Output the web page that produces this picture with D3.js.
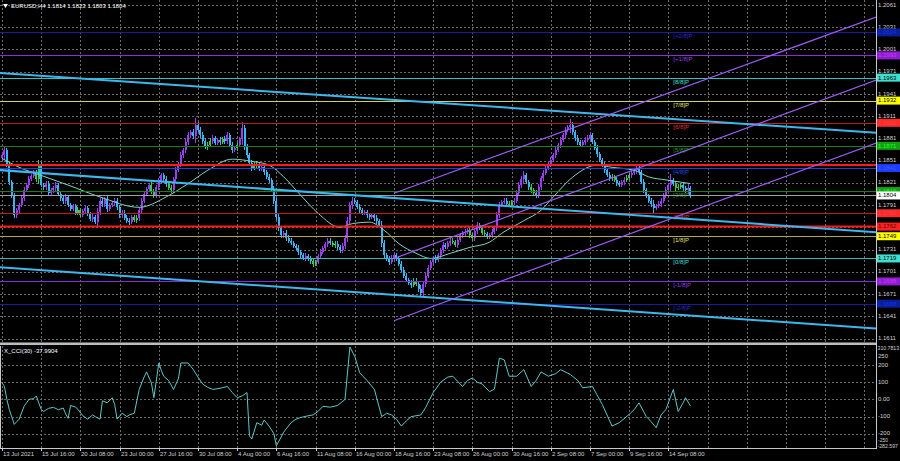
<!DOCTYPE html>
<html><head><meta charset="utf-8">
<script src="https://cdn.jsdelivr.net/npm/d3@7"></script>
<style>
html,body{margin:0;padding:0;background:#000;}
svg{display:block;}
text{font-family:"Liberation Sans",Arial,sans-serif;}
</style></head><body>
<svg id="c" width="900" height="461"></svg>
<script>
// ---------- DATA ----------
const symbolTitle = "EURUSD,H4  1.1814 1.1823 1.1803 1.1804";
const cciTitle = "X_CCI(30) -37.9904";
const firstOpen = 1.1855;
const closes = [
1.1858,1.1865,1.1845,1.1822,1.1804,1.1777,1.1784,1.1791,1.1800,1.1812,
1.1818,1.1826,1.1830,1.1835,1.1826,1.1846,1.1818,1.1815,1.1820,1.1808,
1.1811,1.1814,1.1818,1.1806,1.1800,1.1796,1.1802,1.1791,1.1786,1.1790,
1.1781,1.1784,1.1778,1.1783,1.1787,1.1779,1.1772,1.1775,1.1768,1.1782,
1.1797,1.1792,1.1799,1.1786,1.1791,1.1794,1.1797,1.1788,1.1777,1.1781,
1.1774,1.1770,1.1768,1.1775,1.1771,1.1773,1.1785,1.1797,1.1806,1.1813,
1.1818,1.1810,1.1804,1.1815,1.1824,1.1831,1.1826,1.1820,1.1814,1.1811,
1.1826,1.1838,1.1846,1.1858,1.1865,1.1876,1.1885,1.1890,1.1884,1.1899,
1.1893,1.1885,1.1878,1.1870,1.1872,1.1878,1.1881,1.1875,1.1879,1.1876,
1.1880,1.1878,1.1885,1.1872,1.1865,1.1868,1.1872,1.1880,1.1895,1.1870,
1.1858,1.1848,1.1841,1.1846,1.1845,1.1840,1.1843,1.1835,1.1829,1.1825,
1.1812,1.1797,1.1775,1.1760,1.1750,1.1753,1.1747,1.1743,1.1740,1.1736,
1.1733,1.1728,1.1723,1.1720,1.1722,1.1718,1.1716,1.1712,1.1714,1.1722,
1.1728,1.1733,1.1738,1.1743,1.1740,1.1737,1.1739,1.1734,1.1730,1.1736,
1.1746,1.1770,1.1791,1.1797,1.1795,1.1789,1.1784,1.1780,1.1782,1.1777,
1.1775,1.1778,1.1773,1.1769,1.1764,1.1740,1.1723,1.1718,1.1714,1.1720,
1.1723,1.1719,1.1712,1.1704,1.1696,1.1690,1.1686,1.1683,1.1689,1.1685,
1.1678,1.1673,1.1684,1.1696,1.1706,1.1714,1.1719,1.1717,1.1723,1.1730,
1.1737,1.1735,1.1740,1.1743,1.1741,1.1737,1.1744,1.1750,1.1753,1.1755,
1.1757,1.1750,1.1746,1.1756,1.1764,1.1760,1.1754,1.1752,1.1748,1.1750,
1.1755,1.1760,1.1778,1.1791,1.1795,1.1797,1.1793,1.1791,1.1795,1.1797,
1.1808,1.1818,1.1826,1.1831,1.1822,1.1815,1.1811,1.1808,1.1804,1.1815,
1.1827,1.1834,1.1841,1.1846,1.1852,1.1858,1.1865,1.1872,1.1879,1.1885,
1.1892,1.1896,1.1899,1.1890,1.1881,1.1876,1.1872,1.1876,1.1879,1.1882,
1.1885,1.1876,1.1868,1.1860,1.1852,1.1845,1.1838,1.1832,1.1827,1.1829,
1.1825,1.1821,1.1818,1.1822,1.1825,1.1828,1.1831,1.1834,1.1838,1.1840,
1.1835,1.1822,1.1811,1.1803,1.1797,1.1792,1.1787,1.1790,1.1793,1.1797,
1.1804,1.1811,1.1818,1.1825,1.1820,1.1814,1.1816,1.1818,1.1814,1.1811,
1.1814,1.1804];
// wick length per bar, in pips
const wicks = [
4,6,3,4,3,4,3,3,3,4, 3,4,3,3,4,6,3,3,4,3, 3,3,4,3,3,3,4,3,3,3,
3,4,3,3,4,3,3,4,3,5, 4,3,3,4,3,3,4,3,3,4, 3,3,4,3,3,4,3,4,3,3,
3,4,3,3,4,3,3,4,3,4, 3,4,3,4,3,4,4,3,4,9, 4,3,4,3,4,3,4,3,3,4,
3,4,4,3,4,3,4,3,8,4, 4,3,4,3,4,3,3,4,3,4, 3,5,4,4,3,3,4,3,3,3,
3,4,3,3,4,3,4,4,3,3, 4,3,3,4,3,3,4,3,3,4, 4,5,4,5,3,3,4,3,3,3,
4,3,3,4,3,5,4,3,4,3, 3,4,3,3,4,3,3,4,3,3, 4,5,4,3,4,3,3,4,3,3,
4,3,3,4,3,3,4,3,3,4, 3,3,4,3,4,3,3,4,3,3, 4,3,4,4,3,3,4,3,3,4,
3,4,4,6,3,3,4,3,3,4, 3,4,3,3,4,3,4,3,4,3, 4,3,8,4,3,4,3,3,4,3,
4,3,3,4,3,3,4,3,3,4, 3,4,3,3,4,3,3,4,3,5, 4,3,4,3,3,4,6,3,3,4,
3,4,3,8,3,4,3,3,4,3, 5,3];
const greenBars = [14,15,31,32,54,55,61,62,68,69,84,85,90,96,103,104,127,128,135,136,168,169,184,185,191,192,196,197,207,208,216,217,249,250,255,256,275,276,277];
const maBars = [0,7,16,27,40,56,67,76,84,94,102,109,115,122,129,138,143,150,156,162,169,175,183,191,199,204,213,220,225,233,243,249,258,264,271,277,281];
const maValues = [1.1854,1.1842,1.1831,1.1818,1.1802,1.1788,1.1802,1.1820,1.1838,1.1853,1.1850,1.1845,1.1829,1.1804,1.1780,1.1761,1.1766,1.1768,1.1757,1.1739,1.1726,1.1719,1.1726,1.1734,1.1741,1.1753,1.1770,1.1784,1.1802,1.1829,1.1845,1.1842,1.1838,1.1829,1.1825,1.1822,1.1820];
const cciBars = [0,1,2,3,5,6,7,9,11,13,14,15,16,17,19,21,23,25,26,27,28,30,31,33,35,37,38,40,41,43,45,46,47,49,51,52,54,56,58,59,61,62,64,65,66,68,70,72,73,76,78,80,82,84,86,89,92,94,96,98,100,101,102,104,106,107,109,111,112,115,118,120,122,125,127,129,131,134,137,140,142,144,146,149,152,155,157,159,161,163,165,167,169,171,173,176,179,182,184,186,188,190,192,194,196,199,201,203,205,207,210,213,216,218,220,223,226,228,232,235,237,241,245,249,252,256,258,260,263,265,267,269,271,274,276,278,279,281];
const cciValues = [98,75,0,-60,-145,-130,-115,-40,0,5,20,-20,-58,-70,-52,-46,-60,-50,-85,-110,-35,-45,-58,-95,-115,-90,-100,-115,-8,-20,10,-30,-115,-80,-100,-90,-80,58,130,160,95,10,212,170,135,110,58,120,212,212,175,130,88,70,58,65,75,40,10,20,40,-212,-230,-135,-150,-120,-155,-200,-270,-190,-135,-115,-105,-95,-90,-70,-40,-45,-35,0,305,250,155,110,58,-100,-80,-90,-115,-155,-125,-100,-95,-90,-45,40,100,130,135,105,75,110,125,100,90,45,60,240,230,135,135,173,75,110,160,135,150,173,145,110,68,75,-29,-155,-135,-87,-60,-20,-100,-130,-165,-90,-58,58,-70,-20,10,-38];
const timeLabels = ["13 Jul 2021","15 Jul 16:00","20 Jul 08:00","23 Jul 00:00","27 Jul 16:00","30 Jul 08:00","4 Aug 00:00","6 Aug 16:00","11 Aug 08:00","16 Aug 00:00","18 Aug 16:00","23 Aug 08:00","26 Aug 00:00","30 Aug 16:00","2 Sep 08:00","7 Sep 00:00","9 Sep 16:00","14 Sep 08:00"];
const barsPerLabel = 16;
const priceTicks = [1.2061,1.2031,1.2001,1.1971,1.1941,1.1911,1.1881,1.1851,1.1821,1.1791,1.1761,1.1731,1.1701,1.1671,1.1641,1.1611];
const murrayLevels = [1.2024,1.1993,1.1963,1.1932,1.1902,1.1871,1.1841,1.1810,1.1780,1.1749,1.1719,1.1688,1.1658];
const murrayNames = ["[+2/8]P","[+1/8]P","[8/8]P","[7/8]P","[6/8]P","[5/8]P","[4/8]P","[3/8]P","[2/8]P","[1/8]P","[0/8]P","[-1/8]P","[-2/8]P"];
const keyLevels = [1.1845,1.1762];
const currentPrice = 1.1804;
const descBars = [0,350];
const descUpper = [1.1969,1.1890];
const descMiddle = [1.1838,1.1756];
const descLower = [1.1707,1.1626];
const ascBars = [160,357];
const ascUpper = [1.1807,1.2045];
const ascMiddle = [1.1719,1.1960];
const ascLower = [1.1635,1.1875];
const cciTicks = [250,200,100,0,-100,-200,-250];
const cciMax = 310.7813, cciMin = -282.597;

// ---------- STYLE ----------
const murrayLine = ["#1a1aa8","#8a2be2","#2cc4c4","#d0d060","#c01c1c","#1a801a","#2040d8","#1a801a","#c01c1c","#b0a84c","#2cbcbc","#8a2be2","#1a1aa8"];
const murrayBox  = ["#0a1f96","#8a1fd0","#40e0d0","#ffff00","#ff2a2a","#12a012","#1e3cff","#12a012","#ff2a2a","#ffff00","#40e0d0","#8a1fd0","#0a1f96"];
const murrayText = ["#2a2ad0","#9a3ae8","#40e0d0","#e8e860","#e03030","#1a9a1a","#2a4ae8","#1a9a1a","#e03030","#e0e060","#40d8d8","#9a3ae8","#2a2ad0"];
const BULL="#9b3ff0", BEAR="#38b6f5", GREEN="#33cc55";
const R=876, mainBot=342, cciTop=346, cciBot=448;

// ---------- SCALES ----------
const svg=d3.select("#c");
const x=d3.scaleLinear().domain([0,357.55]).range([2,878]);
const y=d3.scaleLinear().domain([1.1611,1.2061]).range([338.5,5]);
const cy=d3.scaleLinear().domain([cciMin,cciMax]).range([cciBot,cciTop]);

svg.append("rect").attr("width",900).attr("height",461).attr("fill","#000");
const defs=svg.append("defs");
defs.append("clipPath").attr("id","mc").append("rect").attr("x",0).attr("y",0).attr("width",R).attr("height",mainBot);
defs.append("clipPath").attr("id","cc").append("rect").attr("x",0).attr("y",cciTop).attr("width",R).attr("height",cciBot-cciTop);

const gm=svg.append("g").attr("clip-path","url(#mc)");
const gc=svg.append("g").attr("clip-path","url(#cc)");

// grid
const gridCol="#6a6a6a";
const vBars=d3.range(0,400,barsPerLabel).filter(b=>x(b)<R-1);
vBars.forEach(b=>{
  const xx=Math.round(x(b))+0.5;
  gm.append("line").attr("x1",xx).attr("x2",xx).attr("y1",0).attr("y2",mainBot).attr("stroke",gridCol).attr("stroke-dasharray","2,2");
  gc.append("line").attr("x1",xx).attr("x2",xx).attr("y1",cciTop).attr("y2",cciBot).attr("stroke",gridCol).attr("stroke-dasharray","2,2");
});
priceTicks.forEach(p=>{
  const yy=Math.round(y(p))+0.5;
  gm.append("line").attr("x1",0).attr("x2",R).attr("y1",yy).attr("y2",yy).attr("stroke",gridCol).attr("stroke-dasharray","2,2");
});
[200,100,0,-100,-200].forEach(v=>{
  const yy=Math.round(cy(v))+0.5;
  gc.append("line").attr("x1",0).attr("x2",R).attr("y1",yy).attr("y2",yy).attr("stroke",gridCol).attr("stroke-dasharray","2,2");
});

// candles
const bars=closes.map((c,i)=>{
  const o=i?closes[i-1]:firstOpen;
  const w=wicks[i]*0.0001;
  return {i,o,c,h:Math.max(o,c)+w,l:Math.min(o,c)-w};
});
const gset=new Set(greenBars);
const col=d=>gset.has(d.i)?GREEN:(d.c>=d.o?BULL:BEAR);
const cg=gm.append("g").attr("shape-rendering","crispEdges");
cg.selectAll("line.w").data(bars).join("line")
  .attr("x1",d=>x(d.i)).attr("x2",d=>x(d.i))
  .attr("y1",d=>y(d.h)).attr("y2",d=>y(d.l))
  .attr("stroke",col).attr("stroke-width",1);
cg.selectAll("rect.b").data(bars).join("rect")
  .attr("x",d=>x(d.i)-1).attr("width",2)
  .attr("y",d=>y(Math.max(d.o,d.c)))
  .attr("height",d=>Math.max(1,Math.abs(y(d.o)-y(d.c))))
  .attr("fill",col);

// moving average
gm.append("path").datum(maBars.map((b,k)=>[b,maValues[k]]))
  .attr("d",d3.line().x(d=>x(d[0])).y(d=>y(d[1])).curve(d3.curveMonotoneX))
  .attr("fill","none").attr("stroke","#7fd6c4").attr("stroke-width",1);

// murray levels
murrayLevels.forEach((p,k)=>{
  const yy=Math.round(y(p))+0.5;
  gm.append("line").attr("x1",0).attr("x2",R).attr("y1",yy).attr("y2",yy).attr("stroke",murrayLine[k]).attr("stroke-width",1);
  gm.append("text").attr("x",x(274)).attr("y",yy+1).attr("dominant-baseline","hanging")
    .attr("font-size",6).attr("fill",murrayText[k]).text(murrayNames[k]);
});
// current price line
gm.append("line").attr("x1",0).attr("x2",R).attr("y1",Math.round(y(currentPrice))+0.5).attr("y2",Math.round(y(currentPrice))+0.5)
  .attr("stroke","#a0a0a0").attr("stroke-width",1);
// key red levels
keyLevels.forEach(p=>{
  gm.append("line").attr("x1",0).attr("x2",R).attr("y1",y(p)).attr("y2",y(p)).attr("stroke","#ff1a1a").attr("stroke-width",2);
});

// channel lines
function ray(g,bs,ps,color,w,fromLeft){
  const f=d3.scaleLinear().domain(bs).range(ps);
  const start = fromLeft? -2 : bs[0];
  g.append("line").attr("x1",x(start)).attr("y1",y(f(start))).attr("x2",x(360)).attr("y2",y(f(360)))
    .attr("stroke",color).attr("stroke-width",w);
}
[descUpper,descMiddle,descLower].forEach(ps=>ray(gm,descBars,ps,"#3cb8f0",2,true));
[ascUpper,ascMiddle,ascLower].forEach(ps=>ray(gm,ascBars,ps,"#9d5cf5",1.2,false));

// CCI
gc.append("path").datum(cciBars.map((b,k)=>[b,cciValues[k]]))
  .attr("d",d3.line().x(d=>x(d[0])).y(d=>cy(d[1])))
  .attr("fill","none").attr("stroke","#5cc8c8").attr("stroke-width",1);

// frames
svg.append("line").attr("x1",R+0.5).attr("x2",R+0.5).attr("y1",0).attr("y2",cciBot).attr("stroke","#c8c8c8");
svg.append("rect").attr("x",0).attr("y",mainBot+0.5).attr("width",R).attr("height",2.5).attr("fill","#bdbdbd");
svg.append("line").attr("x1",0).attr("x2",R+1).attr("y1",cciBot+0.5).attr("y2",cciBot+0.5).attr("stroke","#c8c8c8");
svg.append("line").attr("x1",0.5).attr("x2",0.5).attr("y1",cciTop).attr("y2",cciBot).attr("stroke","#c8c8c8");

// titles
svg.append("path").attr("d","M3,4 L8,4 L5.5,8 Z").attr("fill","#fff");
svg.append("text").attr("x",11).attr("y",6.5).attr("dominant-baseline","middle").attr("font-size",6).attr("fill","#fff").text(symbolTitle);
svg.append("text").attr("x",4).attr("y",351).attr("dominant-baseline","middle").attr("font-size",6).attr("fill","#fff").text(cciTitle);

// price axis
const axCol="#d0d0d0";
priceTicks.forEach(p=>{
  svg.append("text").attr("x",878).attr("y",y(p)).attr("dominant-baseline","middle").attr("font-size",6).attr("fill",axCol).text(p.toFixed(4));
});
function box(p,bg,txtCol){
  const yy=y(p);
  svg.append("rect").attr("x",877).attr("y",yy-4).attr("width",23).attr("height",8).attr("fill",bg);
  svg.append("text").attr("x",878).attr("y",yy+0.3).attr("dominant-baseline","middle").attr("font-size",6).attr("fill",txtCol).text(p.toFixed(4));
}
murrayLevels.forEach((p,k)=>{
  const light=(k===2||k===3||k===9||k===10);
  box(p,murrayBox[k], light?"#000":d3.color(murrayBox[k]).brighter(1.3));
});
box(keyLevels[1],"#ff2020","#600");
box(currentPrice,"#ffffff","#000");

// CCI axis
svg.append("text").attr("x",877.5).attr("y",cy(cciMax)+2.5).attr("dominant-baseline","middle").attr("font-size",5.2).attr("fill",axCol).text(cciMax.toFixed(4));
cciTicks.forEach(v=>{
  svg.append("text").attr("x",878).attr("y",v===-250?cy(v)-1.5:cy(v)).attr("dominant-baseline","middle").attr("font-size",v===-250?5:6).attr("fill",axCol).text(v===0?"0.00":v);
});
svg.append("text").attr("x",877.5).attr("y",cy(cciMin)-1).attr("dominant-baseline","middle").attr("font-size",5.2).attr("fill",axCol).text(cciMin.toFixed(3));

// time axis
timeLabels.forEach((t,k)=>{
  const xx=Math.round(x(k*barsPerLabel))+0.5;
  svg.append("line").attr("x1",xx).attr("x2",xx).attr("y1",cciBot).attr("y2",cciBot+3).attr("stroke",axCol);
  svg.append("text").attr("x",xx+0.5).attr("y",454).attr("dominant-baseline","middle").attr("font-size",6).attr("fill",axCol).text(t);
});
</script>
</body></html>
